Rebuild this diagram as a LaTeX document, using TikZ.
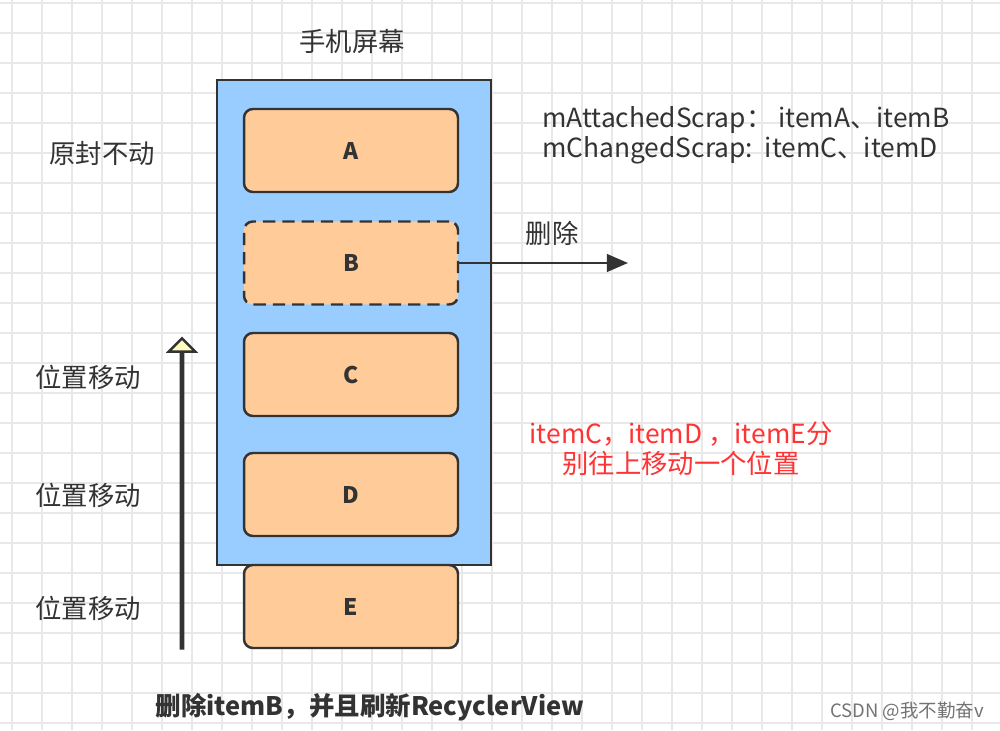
\documentclass[tikz,border=0pt]{standalone}
\usepackage{fontspec}
\setmainfont{Noto Sans CJK SC}
\usetikzlibrary{arrows.meta,shapes.arrows}
\definecolor{scr}{HTML}{99CCFF}
\definecolor{itm}{HTML}{FFCC99}
\definecolor{ln}{HTML}{333333}
\definecolor{red1}{HTML}{FF3333}
\begin{document}
\begin{tikzpicture}[x=0.02cm,y=-0.02cm,
 item/.style={draw=ln,line width=1.4pt,fill=itm,rounded corners=5pt,minimum width=4.28cm,minimum height=1.66cm,font=\bfseries\fontsize{13}{15}\selectfont,text=ln},
 lbl/.style={font=\fontsize{15}{17}\selectfont,text=ln}]
\useasboundingbox (0,0) rectangle (1000,730);
\fill[white] (0,0) rectangle (1000,730);
\foreach \x in {12,42,...,1000} \draw[black!9,line width=0.6pt] (\x,0) -- (\x,730);
\foreach \y in {3,33,...,730} \draw[black!9,line width=0.6pt] (0,\y) -- (1000,\y);
\node[draw=ln,line width=1.6pt,fill=scr,minimum width=5.48cm,minimum height=9.7cm,inner sep=0] (scr) at (354,322.5) {};
\node[item] (A) at (351,150.5) {A};
\node[item,dashed,dash pattern=on 7pt off 4pt] (B) at (351,263) {B};
\node[item] (C) at (351,374.5) {C};
\node[item] (D) at (351,494.5) {D};
\node[item] (E) at (351,606.5) {E};
\coordinate (bend) at (628,263);
\draw[ln,line width=1.4pt,-{Triangle[length=12pt,width=10pt]}] (B.east) -- (bend);
\node[lbl] (del) at (552,233) {删除};
\node[lbl] (title) at (352,42) {手机屏幕};
\node[lbl] (s1) at (102,153) {原封不动};
\node[lbl] (s2) at (88,377) {位置移动};
\node[lbl] (s3) at (88,495) {位置移动};
\node[lbl] (s4) at (88,608) {位置移动};
\node[single arrow,draw=ln,line width=1.4pt,fill=yellow!25,shape border rotate=90,minimum height=6.2cm,minimum width=0.44cm,single arrow head extend=0.24cm,inner sep=0] (up) at (182,494) {};
\node[lbl,align=left] (scrap) at (746,135) {mAttachedScrap：~itemA、itemB\\mChangedScrap:~~itemC、itemD};
\node[lbl,text=red1,align=center] (note) at (681,449) {itemC，itemD ，itemE分\\别往上移动一个位置};
\node[lbl,font=\bfseries\fontsize{14.5}{17}\selectfont] (cap) at (370,707) {删除itemB，并且刷新RecyclerView};
\node[font=\fontsize{10.5}{12}\selectfont,text=black!55] (wm) at (907,711) {CSDN @我不勤奋v};
\end{tikzpicture}
\end{document}
